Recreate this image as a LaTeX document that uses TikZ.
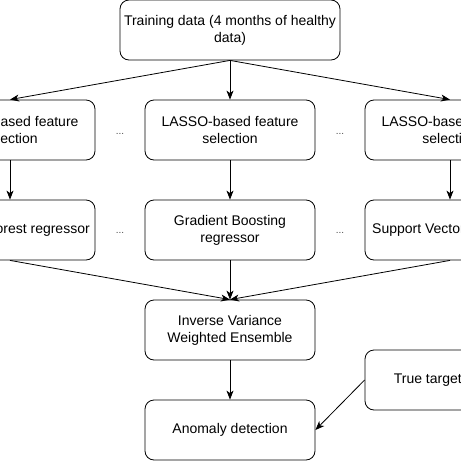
\documentclass[tikz,border=0pt]{standalone}
\usepackage{fontspec}
\setmainfont{Liberation Sans}
\usetikzlibrary{arrows.meta}
\tikzset{
	stage/.style={draw, rounded corners=9pt, minimum width=170pt, minimum height=60pt, inner sep=1pt, align=center, font=\fontsize{14}{17}\selectfont, line width=0.8pt},
	flow/.style={-{Stealth[length=9pt, width=7pt, inset=2.5pt]}, line width=0.8pt},
	gap/.style={font=\fontsize{10}{10}\selectfont, text=black!70, inner sep=0pt}
}
\begin{document}
\begin{tikzpicture}[x=1pt, y=-1pt]
	\clip (0, 0) rectangle (461, 461);
	% top
	\node[stage, minimum width=220pt] (train) at (230, 30) {Training data (4 months of healthy\\data)};
	% feature selection
	\node[stage] (sel1) at (10, 130) {LASSO-based feature\\selection};
	\node[stage] (sel2) at (230, 130) {LASSO-based feature\\selection};
	\node[stage] (sel3) at (450, 130) {LASSO-based feature\\selection};
	% regressors
	\node[stage] (reg1) at (10, 230) {Random Forest regressor};
	\node[stage] (reg2) at (230, 230) {Gradient Boosting\\regressor};
	\node[stage] (reg3) at (450, 230) {Support Vector regressor};
	% les points
	\node[gap] (dots1) at (120, 134) {...};
	\node[gap] (dots2) at (340, 134) {...};
	\node[gap] (dots3) at (120, 233) {...};
	\node[gap] (dots4) at (340, 233) {...};
	% ensemble and output
	\node[stage] (ens) at (230, 330) {Inverse Variance\\Weighted Ensemble};
	\node[stage] (anom) at (230, 430) {Anomaly detection};
	\node[stage] (truth) at (450, 380) {True target values};
	% arrows
	\draw[flow] (train.south) -- (sel1.north);
	\draw[flow] (train.south) -- (sel2.north);
	\draw[flow] (train.south) -- (sel3.north);
	\draw[flow] (sel1) -- (reg1);
	\draw[flow] (sel2) -- (reg2);
	\draw[flow] (sel3) -- (reg3);
	\draw[flow] (reg1.south) -- (ens.north);
	\draw[flow] (reg2.south) -- (ens.north);
	\draw[flow] (reg3.south) -- (ens.north);
	\draw[flow] (ens) -- (anom);
	\draw[flow] (truth.west) -- (anom.east);
\end{tikzpicture}
\end{document}
